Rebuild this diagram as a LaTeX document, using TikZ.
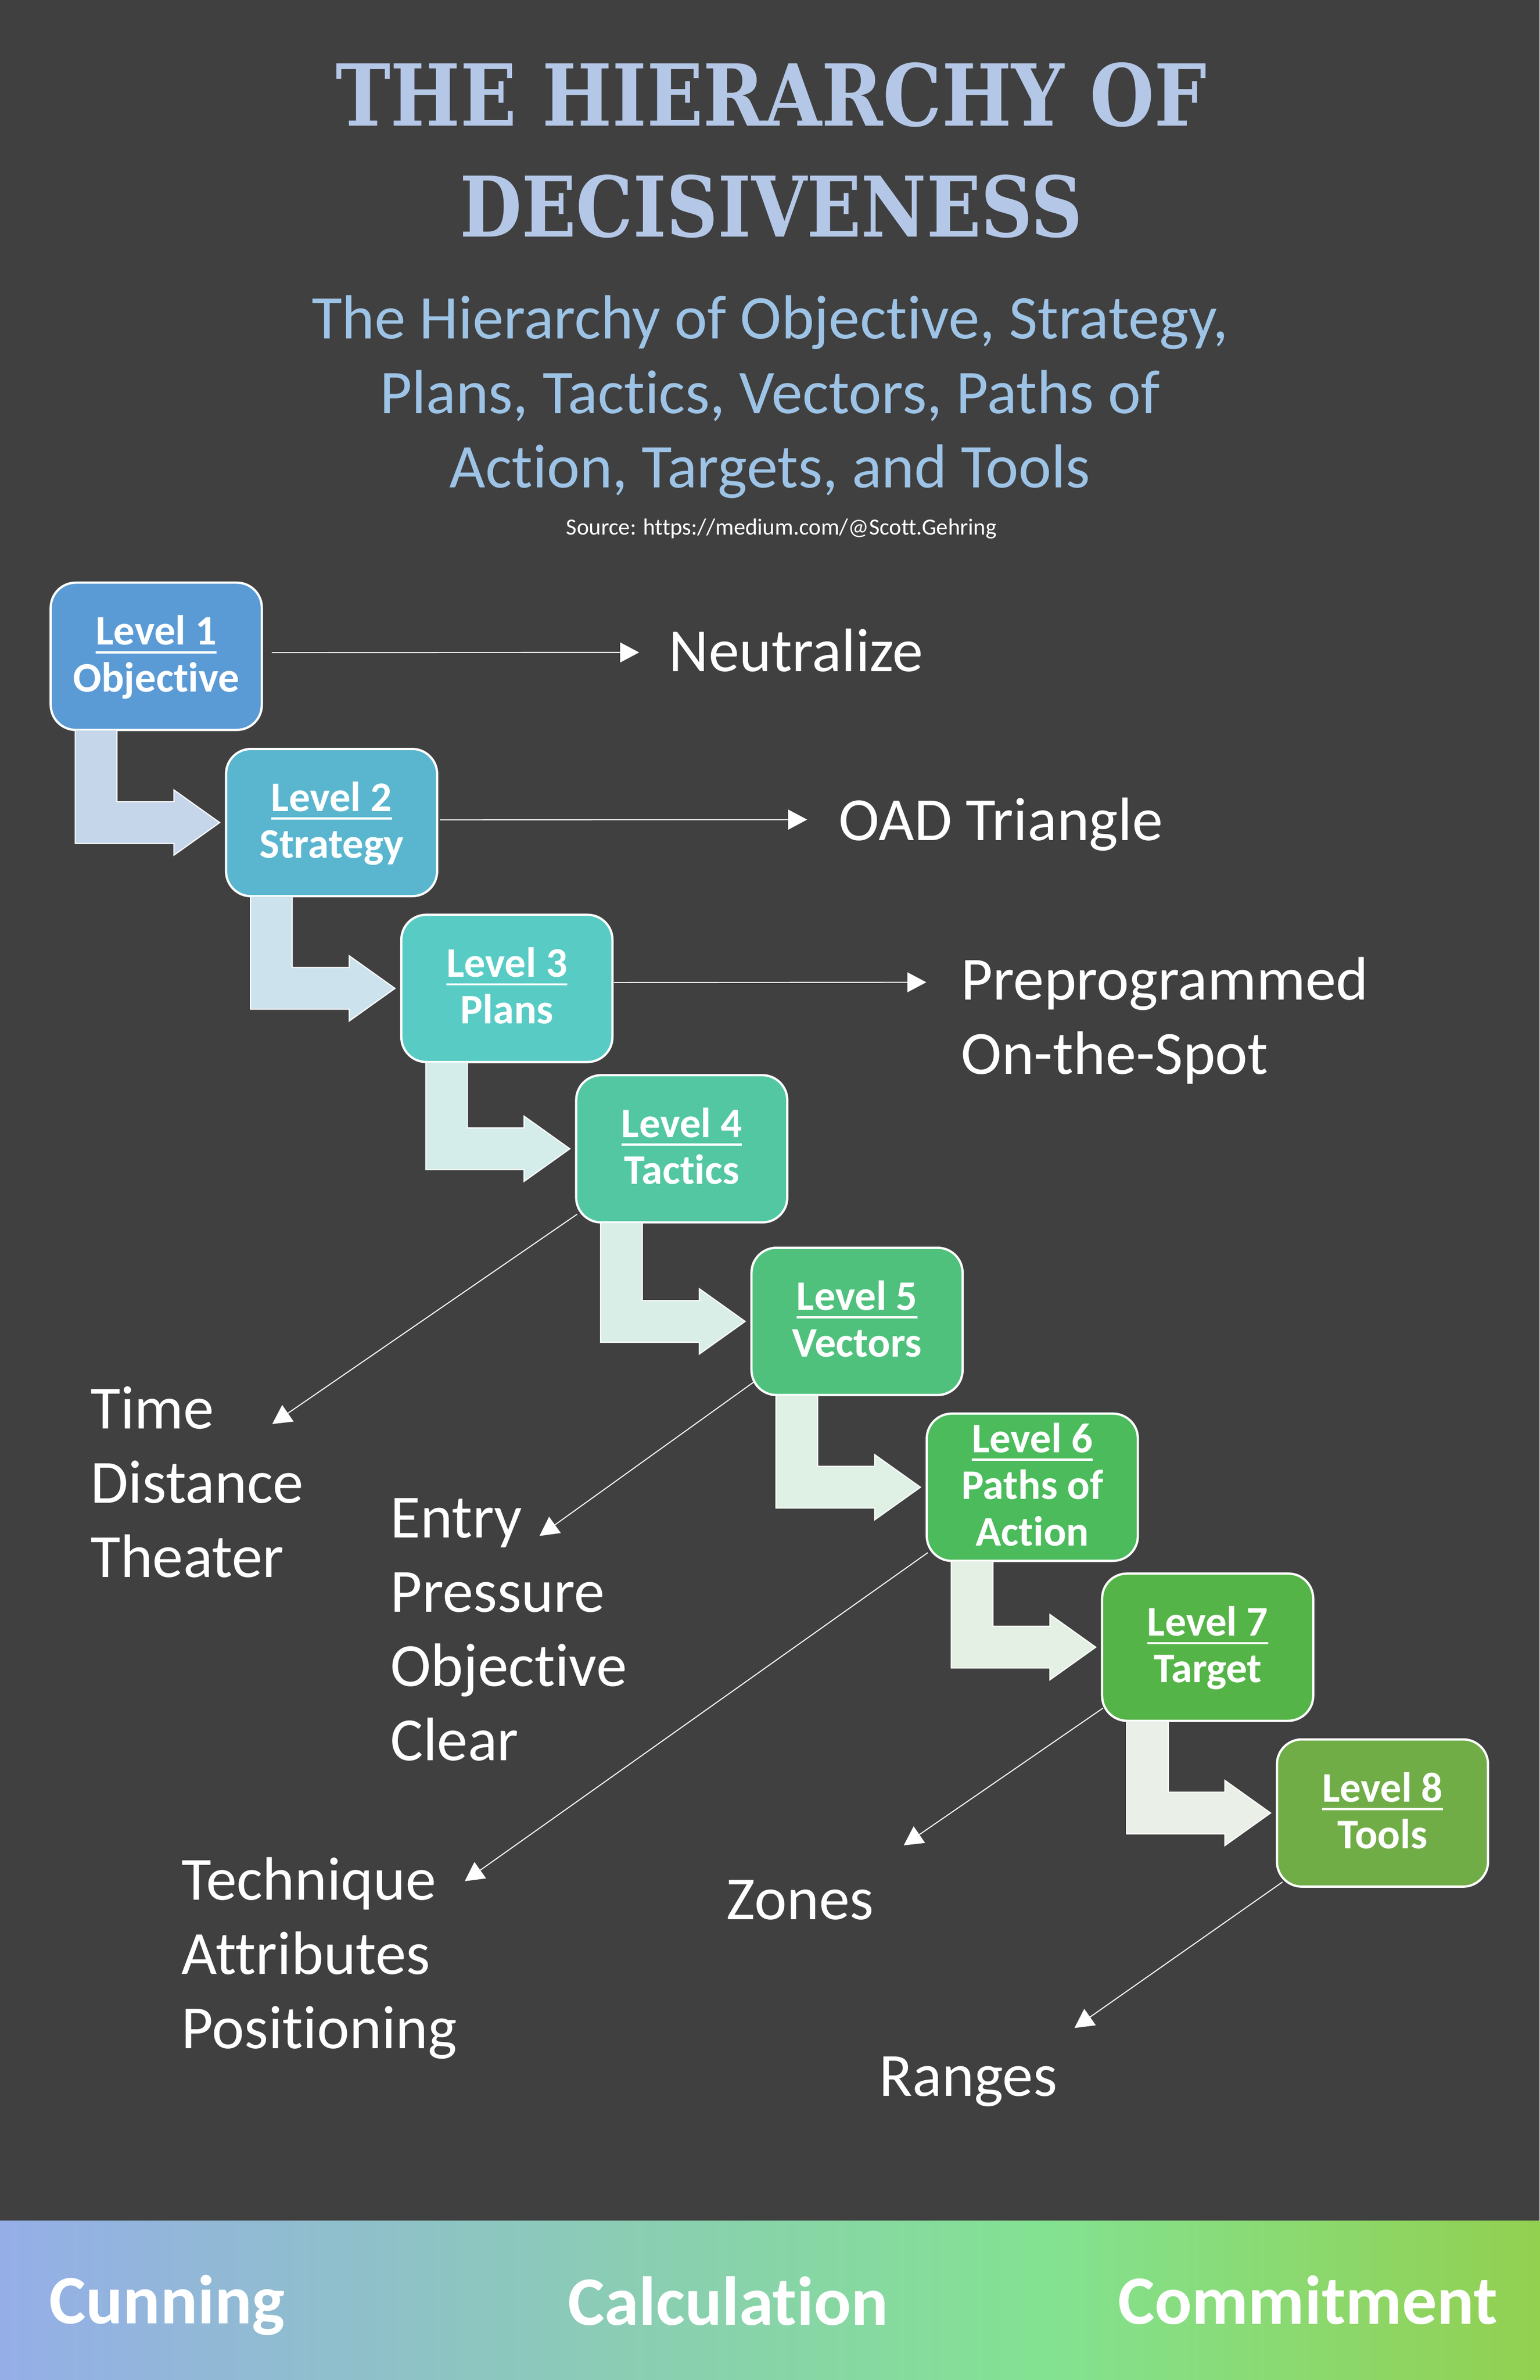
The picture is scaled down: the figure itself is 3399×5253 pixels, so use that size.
\documentclass[tikz,border=0pt]{standalone}
\usepackage{fontspec}
\usepackage{graphicx}
\setmainfont{Carlito}[Ligatures={NoCommon,NoContextual}]
\newfontfamily\titlefont{DejaVu Serif}
\usetikzlibrary{arrows.meta,calc}
\definecolor{bg}{HTML}{404040}
\definecolor{titlec}{HTML}{B4C7E7}
\definecolor{subc}{HTML}{9DC3E6}
\definecolor{c1}{HTML}{5B9BD5}
\definecolor{c2}{HTML}{5AB6CF}
\definecolor{c3}{HTML}{57CBC4}
\definecolor{c4}{HTML}{52C7A2}
\definecolor{c5}{HTML}{4FC17D}
\definecolor{c6}{HTML}{4BBB5C}
\definecolor{c7}{HTML}{55B447}
\definecolor{c8}{HTML}{70AD47}
\definecolor{a1}{HTML}{C5D5EA}
\definecolor{a2}{HTML}{CCE2EC}
\definecolor{a3}{HTML}{D4ECEA}
\definecolor{a4}{HTML}{D9EEE7}
\definecolor{a5}{HTML}{DFF0E5}
\definecolor{a6}{HTML}{E4F0E4}
\definecolor{a7}{HTML}{EAEFE8}
\pgfdeclarehorizontalshading{bandshade}{100bp}{rgb(0bp)=(0.584,0.682,0.910); rgb(25bp)=(0.584,0.682,0.910); rgb(59bp)=(0.514,0.886,0.569); rgb(75bp)=(0.573,0.816,0.314); rgb(100bp)=(0.573,0.816,0.314)}
\newcommand\lvl[1]{\setbox0\hbox{#1}\rlap{\vrule height -2.7pt depth 3.7pt width \wd0}\box0}
\newcommand\bst{\rule[-3.4pt]{0pt}{17.4pt}}
\newcommand\lst{\rule{0pt}{21pt}}
\begin{document}
\begin{tikzpicture}[x=0.2pt,y=-0.2pt,
  levelbox/.style={draw=white, line width=1pt, rounded corners=11pt, minimum width=93.2pt, minimum height=65pt, inner sep=0pt, outer sep=0pt, anchor=north west, align=center, text=white, font=\bfseries\fontsize{18.6pt}{20.6pt}\selectfont},
  lab/.style={anchor=north west, inner sep=0pt, align=left, text=white, font=\fontsize{27.1pt}{32.8pt}\selectfont},
  conn/.style={draw=white, line width=0.45pt, -{Triangle[length=8.4pt,width=8.8pt]}},
  bent/.style={draw=white, line width=0.5pt, line join=miter},
  bandtext/.style={anchor=base west, inner sep=0pt, text=white, font=\bfseries\fontsize{30.6pt}{36pt}\selectfont}]
\fill[bg] (0,0) rectangle (3399,5253);
\useasboundingbox (0,0) rectangle (3399,5253);

% title
\node[anchor=base west, inner sep=0pt, text=titlec] (title1) at (740,278) {\resizebox{384.6pt}{28pt}{\titlefont\bfseries THE HIERARCHY OF}};
\node[anchor=base west, inner sep=0pt, text=titlec] (title2) at (1014,523) {\resizebox{275pt}{27.4pt}{\titlefont\bfseries DECISIVENESS}};
\node[anchor=north, inner sep=0pt, align=center, text=subc, font=\fontsize{27.45pt}{32.8pt}\selectfont] (sub) at (1699.5,642) {\lst The Hierarchy of Objective, Strategy,\\Plans, Tactics, Vectors, Paths of\\Action, Targets, and Tools};
\node[anchor=base west, inner sep=0pt, text=white, font=\fontsize{10.2pt}{12pt}\selectfont] (src) at (1249,1180) {Source: https://medium.com/@Scott.Gehring};

% level boxes
\node[levelbox, fill=c1] (b1) at (112,1286) {\bst\lvl{Level 1}\\\bst Objective};
\node[levelbox, fill=c2] (b2) at (499,1653) {\bst\lvl{Level 2}\\\bst Strategy};
\node[levelbox, fill=c3] (b3) at (886,2019) {\bst\lvl{Level 3}\\\bst Plans};
\node[levelbox, fill=c4] (b4) at (1272,2373) {\bst\lvl{Level 4}\\\bst Tactics};
\node[levelbox, fill=c5] (b5) at (1659,2754) {\bst\lvl{Level 5}\\\bst Vectors};
\node[levelbox, fill=c6] (b6) at (2046,3120) {\bst\lvl{Level 6}\\\bst Paths of\\\bst Action};
\node[levelbox, fill=c7] (b7) at (2433,3473) {\bst\lvl{Level 7}\\\bst Target};
\node[levelbox, fill=c8] (b8) at (2819,3839) {\bst\lvl{Level 8}\\\bst Tools};

% bent arrows
\foreach \p/\n/\col in {b1/b2/a1, b2/b3/a2, b3/b4/a3, b4/b5/a4, b5/b6/a5, b6/b7/a6, b7/b8/a7}{
  \filldraw[bent, fill=\col] ($(\p.south west)+(54,0)$) |- ($(\n.west)+(-115,46)$) -- ++(0,26) -- ($(\n.west)+(-14,0)$) -- ($(\n.west)+(-115,-72)$) -- ++(0,26) -| ($(\p.south west)+(146,0)$) -- cycle;
}

% labels
\node[lab] (l1) at (1476,1376) {\lst Neutralize};
\node[lab] (l2) at (1851,1749) {\lst OAD Triangle};
\node[lab] (l3) at (2121,2101) {\lst Preprogrammed\\On-the-Spot};
\node[lab] (l4) at (199,3047) {\lst Time\\Distance\\Theater};
\node[lab] (l5) at (861,3288) {\lst Entry\\Pressure\\Objective\\Clear};
\node[lab] (l6) at (400,4087) {\lst Technique\\Attributes\\Positioning};
\node[lab] (l7) at (1603,4130) {\lst Zones};
\node[lab] (l8) at (1940,4520) {\lst Ranges};

% connector ends
\coordinate (t1) at (1411,1440);
\coordinate (t2) at (1782,1809);
\coordinate (t3) at (2045,2168);
\coordinate (t4) at (601,3143);
\coordinate (t5) at (1191,3390);
\coordinate (t6) at (1026,4152);
\coordinate (t7) at (1995,4073);
\coordinate (t8) at (2372,4476);

\draw[conn] ($(b1.east)+(22,-8)$) -- (t1);
\draw[conn] ($(b2.east)+(6,-6)$) -- (t2);
\draw[conn] ($(b3.east)+(3,-13)$) -- (t3);
\draw[conn] ($(b4.south west)+(2,-18)$) -- (t4);
\draw[conn] ($(b5.south west)+(4,-28)$) -- (t5);
\draw[conn] ($(b6.south west)+(2,-18)$) -- (t6);
\draw[conn] ($(b7.south west)+(2,-28)$) -- (t7);
\draw[conn] ($(b8.south west)+(12,-10)$) -- (t8);

% bottom band
\shade[shading=bandshade] (0,4901) rectangle (3399,5253);
\node[bandtext] (w1) at (108,5128) {Cunning};
\node[bandtext] (w2) at (1253,5132) {Calculation};
\node[bandtext] (w3) at (2467,5129) {Commitment};
\end{tikzpicture}
\end{document}
